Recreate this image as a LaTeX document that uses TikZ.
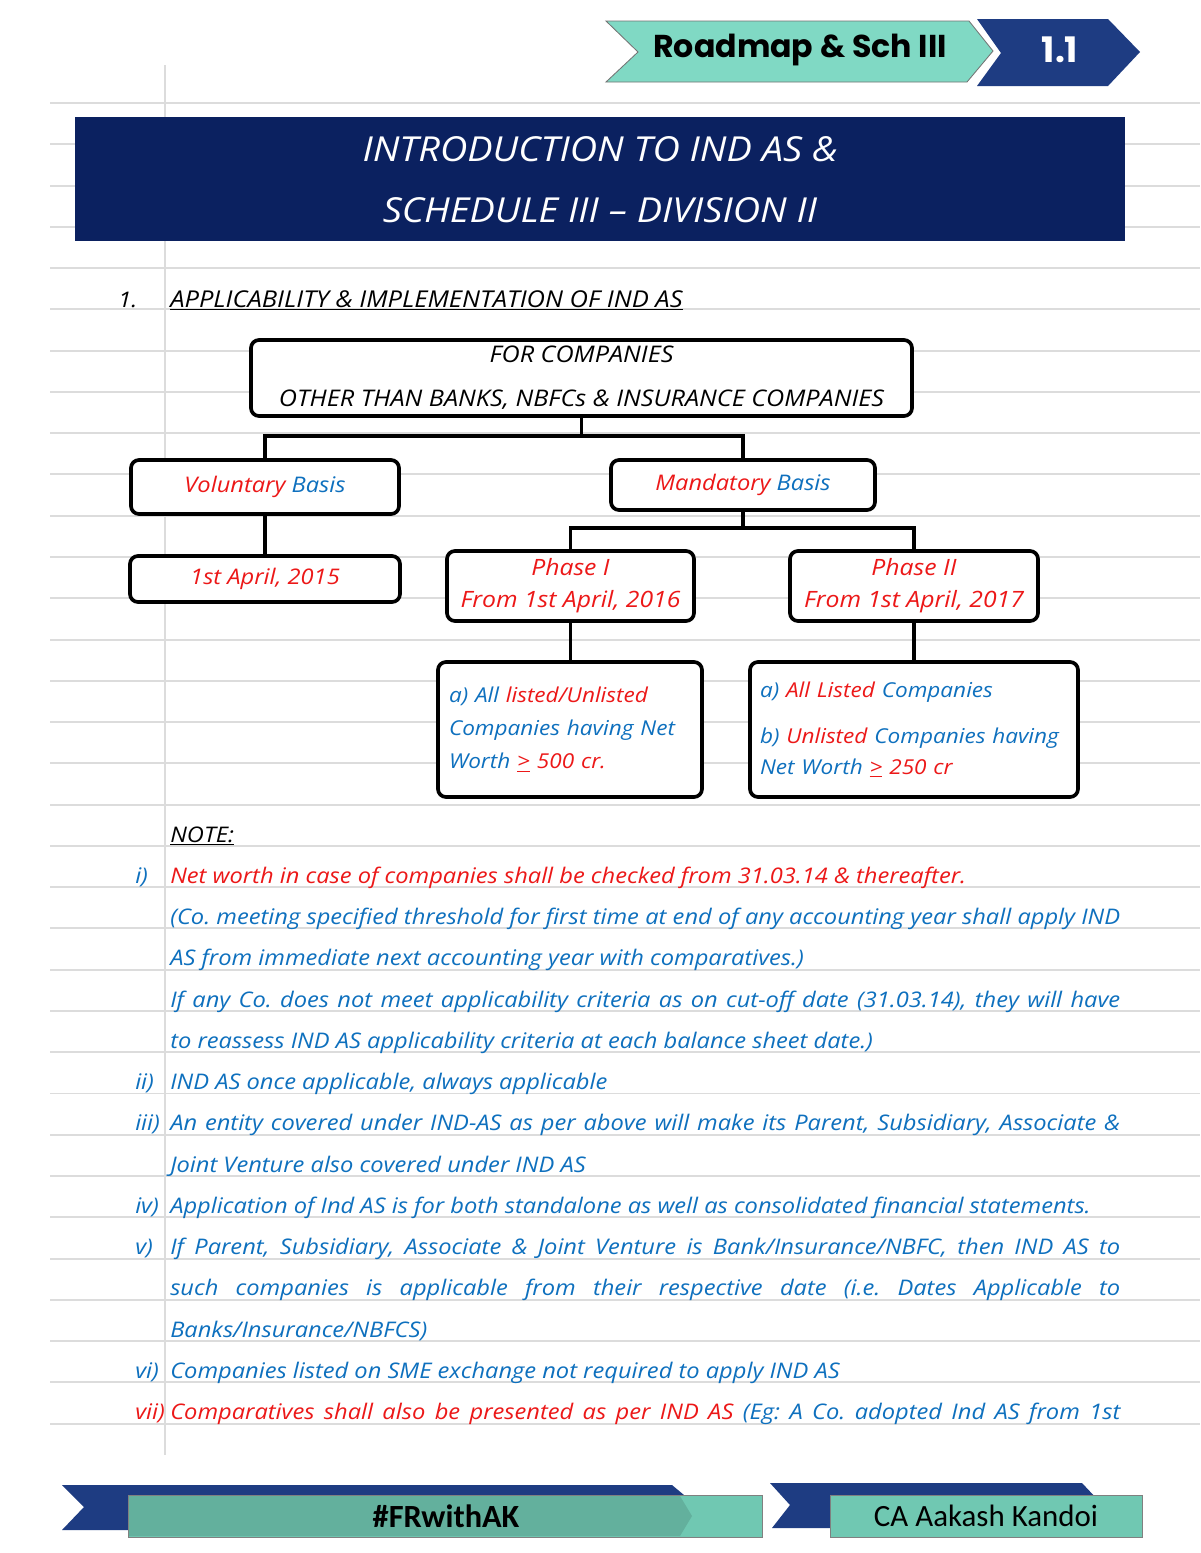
\documentclass[tikz,border=0pt]{standalone}
\usepackage{fontspec}
\setmainfont{Open Sans}
\newfontfamily\handfont{Open Sans}[FakeStretch=1.1]
\newfontfamily\gothic{Poppins}
\newfontfamily\calib{Carlito}
\usetikzlibrary{calc}
\definecolor{inkred}{RGB}{236,24,24}
\definecolor{inkblue}{RGB}{14,112,190}
\definecolor{ruled}{RGB}{220,220,220}
\definecolor{navy}{RGB}{11,33,96}
\definecolor{ribbonnavy}{RGB}{30,60,130}
\definecolor{tealhead}{RGB}{128,217,196}
\definecolor{tealfoot}{RGB}{112,200,178}
\newcommand{\hand}{\handfont\itshape\fontsize{15.3}{18}\selectfont}
\newcommand{\fullline}[1]{\makebox[237.5mm][s]{#1}}
\newcommand{\redt}[1]{\textcolor{inkred}{#1}}
\newcommand{\bluet}[1]{\textcolor{inkblue}{#1}}
\frenchspacing

\begin{document}
\begin{tikzpicture}[x=0.25mm, y=-0.25mm,
  box/.style={draw, line width=2.6pt, rounded corners=2mm, fill=white, inner sep=0pt},
  link/.style={line width=2.6pt},
  ruleline/.style={ruled, line width=1.4pt},
  noteline/.style={anchor=base west, inner sep=0pt, font=\hand, text=inkblue}]

\useasboundingbox (0,0) rectangle (1200,1553);
\fill[white] (0,0) rectangle (1200,1553);

%---------------- ruled paper -----------------
\foreach \k in {0,...,32}
  \draw[ruleline] (50,{103+41.27*\k}) -- (1200,{103+41.27*\k});
\draw[ruled, line width=2pt] (165,65) -- (165,1455);

%---------------- header tabs -----------------
\draw[fill=tealhead, draw=black!55, line width=0.6pt]
  (606,21) -- (969,21) -- (993,51) -- (967,82) -- (606,82) -- (638,52) -- cycle;
\node[font=\gothic\bfseries\fontsize{22.5}{26}\selectfont] (tabname) at (800,50) {Roadmap \& Sch III};
\fill[ribbonnavy] (977,19) -- (1108,19) -- (1140,52) -- (1108,86) -- (977,86) -- (1001,53) -- cycle;
\node[font=\gothic\bfseries\fontsize{25}{28}\selectfont, text=white] (tabno) at (1060,50) {1.1};

%---------------- title banner -----------------
\fill[navy] (75,117) rectangle (1125,241);
\node[font=\handfont\itshape\fontsize{24.5}{28}\selectfont, text=white] (title1) at (600,149) {INTRODUCTION TO IND AS \&};
\node[font=\handfont\itshape\fontsize{24.5}{28}\selectfont, text=white] (title2) at (600,210) {SCHEDULE III \textendash{} DIVISION II};

%---------------- section heading -----------------
\node[anchor=base west, inner sep=0pt, font=\hand] (secno) at (118,307) {1.};
\node[anchor=base west, inner sep=0pt, font=\handfont\itshape\fontsize{16.5}{18}\selectfont] (sechead) at (170,307)
  {\underline{APPLICABILITY \& IMPLEMENTATION OF IND AS}};

%---------------- chart -----------------
\node[box, minimum width=165.25mm, minimum height=19mm, align=center,
      font=\handfont\itshape\fontsize{16.3}{31.3}\selectfont] (top) at (581.5,378)
  {FOR COMPANIES\\OTHER THAN BANKS, NBFCs \& INSURANCE COMPANIES};
\node[box, minimum width=67mm, minimum height=13.5mm, font=\hand] (vol) at (265,487)
  {\redt{Voluntary} \bluet{Basis}};
\node[box, minimum width=66mm, minimum height=12.5mm, font=\hand] (mand) at (743,485)
  {\redt{Mandatory} \bluet{Basis}};
\node[box, minimum width=67.5mm, minimum height=11.5mm, font=\hand, text=inkred] (apr15) at (265,579)
  {1st April, 2015};
\node[box, minimum width=61.75mm, minimum height=17.5mm, align=center, text=inkred,
      font=\handfont\itshape\fontsize{16}{22.8}\selectfont] (ph1) at (570.5,586)
  {Phase I\\From 1st April, 2016};
\node[box, minimum width=62mm, minimum height=17.5mm, align=center, text=inkred,
      font=\handfont\itshape\fontsize{16}{22.8}\selectfont] (ph2) at (914,586)
  {Phase II\\From 1st April, 2017};
\node[box, minimum width=66mm, minimum height=33.75mm, inner xsep=2.75mm, text width=60.5mm,
      align=left, text=inkblue, font=\handfont\itshape\fontsize{14.6}{23.5}\selectfont] (crit1) at (570,729.5)
  {a) All \redt{listed/Unlisted}\\Companies having Net\\Worth \redt{\underline{>} 500 cr.}};
\node[box, minimum width=82mm, minimum height=33.75mm, inner xsep=2.5mm, text width=77mm,
      align=left, text=inkblue, font=\handfont\itshape\fontsize{14.6}{22}\selectfont] (crit2) at (914,729.5)
  {a) \redt{All Listed} Companies\\[10.5pt]b) \redt{Unlisted} Companies having\\Net Worth \redt{\underline{>} 250 cr}};

% connectors
\coordinate (bus1) at (581.5,436);
\coordinate (bus2) at (743,528);
\draw[link] (top.south) -- (bus1) -| (vol.north);
\draw[link] (bus1) -| (mand.north);
\draw[link] (vol.south) -- (apr15.north);
\draw[link] (mand.south) -- (bus2) -| (ph1.north);
\draw[link] (bus2) -| (ph2.north);
\draw[link] (ph1.south) -- (ph1.south |- crit1.north);
\draw[link] (ph2.south) -- (ph2.south |- crit2.north);

%---------------- notes -----------------
\node[noteline, text=black] (notehead) at (170,842) {\underline{NOTE:}};
\node[noteline] (lbl1) at (135,883) {i)};
\node[noteline, text=inkred] (note1a) at (170,883)
  {Net worth in case of companies shall be checked from 31.03.14 \& thereafter.};
\node[noteline] (note1b) at (170,924)
  {\fullline{(Co. meeting specified threshold for first time at end of any accounting year shall apply IND}};
\node[noteline] (note1c) at (170,965)
  {AS from immediate next accounting year with comparatives.)};
\node[noteline] (note1d) at (170,1007)
  {\fullline{If any Co. does not meet applicability criteria as on cut-off date (31.03.14), they will have}};
\node[noteline] (note1e) at (170,1048)
  {to reassess IND AS applicability criteria at each balance sheet date.)};
\node[noteline] (lbl2) at (135,1089) {ii)};
\node[noteline] (note2) at (170,1089) {IND AS once applicable, always applicable};
\node[noteline] (lbl3) at (135,1130) {iii)};
\node[noteline] (note3a) at (170,1130)
  {\fullline{An entity covered under IND-AS as per above will make its Parent, Subsidiary, Associate \&}};
\node[noteline] (note3b) at (170,1172) {Joint Venture also covered under IND AS};
\node[noteline] (lbl4) at (135,1213) {iv)};
\node[noteline] (note4) at (170,1213)
  {Application of Ind AS is for both standalone as well as consolidated financial statements.};
\node[noteline] (lbl5) at (135,1254) {v)};
\node[noteline] (note5a) at (170,1254)
  {\fullline{If Parent, Subsidiary, Associate \& Joint Venture is Bank/Insurance/NBFC, then IND AS to}};
\node[noteline] (note5b) at (170,1295)
  {\fullline{such companies is applicable from their respective date (i.e. Dates Applicable to}};
\node[noteline] (note5c) at (170,1337) {Banks/Insurance/NBFCS)};
\node[noteline] (lbl6) at (135,1378) {vi)};
\node[noteline] (note6) at (170,1378) {Companies listed on SME exchange not required to apply IND AS};
\node[noteline, text=inkred] (lbl7) at (135,1419) {vii)};
\node[noteline] (note7) at (170,1419)
  {\fullline{\redt{Comparatives shall also be presented as per IND AS} (Eg: A Co. adopted Ind AS from 1st}};

%---------------- footer ribbons -----------------
\fill[ribbonnavy] (62,1485) -- (672,1485) -- (690,1500) -- (690,1530) -- (62,1530) -- (84,1507) -- cycle;
\draw[fill=tealfoot, draw=black!50, line width=0.5pt] (128,1495) rectangle (762,1537);
\fill[tealfoot!88!black] (129,1496) -- (680,1496) -- (692,1516) -- (680,1536) -- (129,1536) -- cycle;
\node[font=\calib\bfseries\fontsize{23}{26}\selectfont] (hashtag) at (446,1516) {\#FRwithAK};
\fill[ribbonnavy] (770,1483) -- (1082,1483) -- (1098,1500) -- (1098,1528) -- (772,1528) -- (790,1505) -- cycle;
\draw[fill=tealfoot, draw=black!50, line width=0.5pt] (830,1495) rectangle (1142,1537);
\node[font=\calib\fontsize{22}{25}\selectfont] (author) at (986,1516) {CA Aakash Kandoi};

\end{tikzpicture}
\end{document}
